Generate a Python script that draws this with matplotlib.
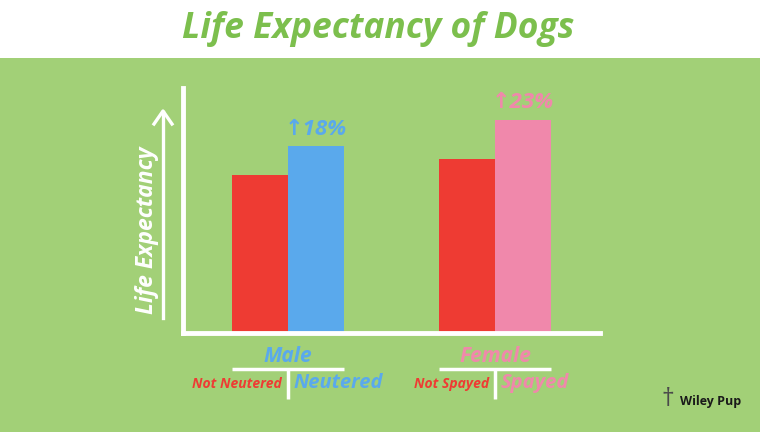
import matplotlib.pyplot as plt
from matplotlib.patches import Rectangle

groups = ["Male", "Female"]
intact_labels = ["Not Neutered", "Not Spayed"]
fixed_labels = ["Neutered", "Spayed"]
intact_values = [10.0, 11.0]
fixed_values = [11.8, 13.5]
increase = ["18%", "23%"]

bg = "#a2d077"
red = "#ee3b33"
fixed_colors = ["#5aa9ec", "#f088ab"]
title_green = "#7cbf4d"
fam = ["Open Sans", "DejaVu Sans"]

W, H = 760, 432


def fx(x):
    return x / W


def fy(y):
    return 1 - y / H


fig = plt.figure(figsize=(7.6, 4.32), dpi=100)
fig.patch.set_facecolor(bg)
fig.add_artist(Rectangle((0, fy(58)), 1, 58 / H, transform=fig.transFigure,
                         facecolor="white", edgecolor="none", zorder=0))
fig.text(fx(378), fy(29), "Life Expectancy of Dogs", ha="center", va="center",
         fontsize=25.5, fontweight="bold", style="italic", color=title_green,
         family=fam)

ax = fig.add_axes([fx(183), fy(333), fx(600) - fx(183), (333 - 88) / H])
ax.set_facecolor("none")
w = 0.27
xs = range(len(groups))
for i in xs:
    ax.bar(i - w / 2, intact_values[i], width=w, color=red, zorder=2)
    ax.bar(i + w / 2, fixed_values[i], width=w, color=fixed_colors[i], zorder=2)
    ax.annotate("\u2191" + increase[i], (i + w / 2, fixed_values[i]),
                xytext=(0, 5), textcoords="offset points", ha="center",
                va="bottom", fontsize=16, fontweight="bold", style="italic",
                color=fixed_colors[i], family=fam)

    tr = ax.get_xaxis_transform()
    ax.text(i, -0.095, groups[i], transform=tr, ha="center", va="center",
            fontsize=15, fontweight="bold", style="italic",
            color=fixed_colors[i], family=fam, clip_on=False)
    ax.plot([i - w, i + w], [-0.147, -0.147], transform=tr, color="white",
            lw=2.5, clip_on=False, solid_capstyle="butt")
    ax.plot([i, i], [-0.147, -0.27], transform=tr, color="white",
            lw=2.5, clip_on=False, solid_capstyle="butt")
    ax.text(i - 0.03, -0.21, intact_labels[i], transform=tr, ha="right",
            va="center", fontsize=10, fontweight="bold", style="italic",
            color=red, family=fam, clip_on=False)
    ax.text(i + 0.025, -0.205, fixed_labels[i], transform=tr, ha="left",
            va="center", fontsize=14.5, fontweight="bold", style="italic",
            color=fixed_colors[i], family=fam, clip_on=False)

ax.set_xlim(-0.507, 1.507)
ax.set_ylim(0, 15.5)
ax.set_xticks([])
ax.set_yticks([])
for s in ["top", "right"]:
    ax.spines[s].set_visible(False)
for s in ["left", "bottom"]:
    ax.spines[s].set_color("white")
    ax.spines[s].set_linewidth(3.5)

fig.text(fx(147), fy(230), "Life Expectancy", rotation=90, ha="center",
         va="center", fontsize=16.5, fontweight="bold", style="italic",
         color="white", family=fam)
fig.add_artist(plt.Line2D([fx(163), fx(163)], [fy(318), fy(112)],
                          transform=fig.transFigure, color="white", lw=2.4))
fig.add_artist(plt.Line2D([fx(154), fx(163), fx(172)], [fy(124), fy(111), fy(124)],
                          transform=fig.transFigure, color="white", lw=2.4))

fig.text(fx(680), fy(401), "Wiley Pup", ha="left", va="center", fontsize=9,
         fontweight="bold", color="#1a1a1a", family=fam)
fig.text(fx(668), fy(399), "\u2020", ha="center", va="center", fontsize=18,
         color="#4a4a4a", family=fam)

fig.savefig("out.png", dpi=100, facecolor=bg)
